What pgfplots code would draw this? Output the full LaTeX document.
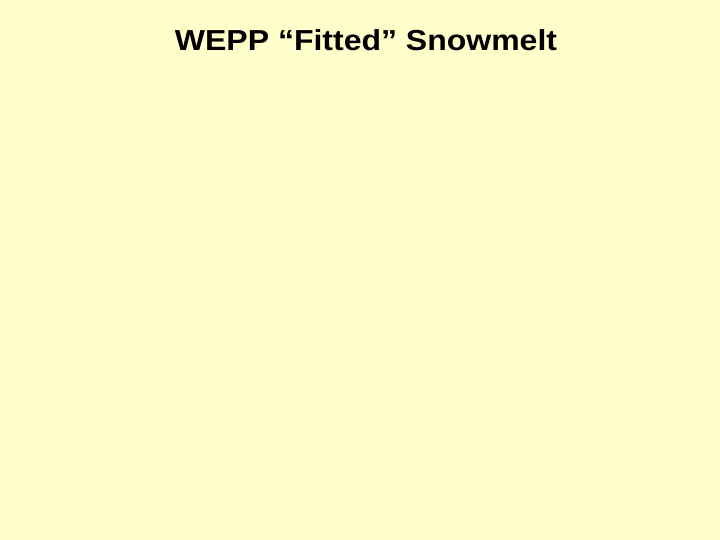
\documentclass[border=0pt]{standalone}
\usepackage{pgfplots}
\pgfplotsset{compat=1.18}
\usepackage{graphicx}
\usepackage{fontspec}
\setmainfont{Liberation Sans}
\definecolor{slidebg}{HTML}{FFFFCC}

\begin{document}
\begin{tikzpicture}
  \begin{axis}[
      scale only axis,
      width=720bp,
      height=540bp,
      xmin=0, xmax=720,
      ymin=0, ymax=540,
      ticks=none,
      axis line style={draw=none},
      axis background/.style={fill=slidebg},
      % slide title, set slightly wide as on the slide
      title={\scalebox{1.107}[1]{WEPP “Fitted” Snowmelt}},
      title style={
          at={(axis cs:366,484)},
          anchor=base,
          font=\fontsize{28.9bp}{34bp}\selectfont\bfseries,
          text=black,
        },
    ]
  \end{axis}
\end{tikzpicture}
\end{document}
